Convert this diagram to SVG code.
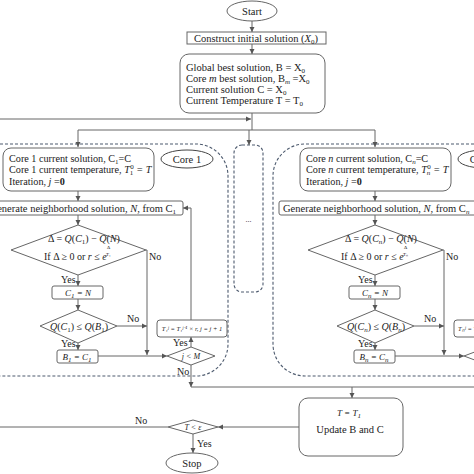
<svg xmlns="http://www.w3.org/2000/svg" width="474" height="474" viewBox="0 0 474 474">
<style>
text{font-family:"Liberation Serif","Times New Roman",serif;font-size:10.5px;fill:#222}
.c{text-anchor:middle}
.i{font-style:italic}
.sm{font-size:7px}
.cb{font-size:10.2px}
.box{fill:#fff;stroke:#666;stroke-width:1}
.dash{fill:none;stroke:#4d5a6e;stroke-width:1.1;stroke-dasharray:3 2}
.ln{fill:none;stroke:#666;stroke-width:1}
.ar{fill:none;stroke:#666;stroke-width:1;marker-end:url(#ah)}
</style>
<defs>
<marker id="ah" markerWidth="6" markerHeight="6" refX="5" refY="3" orient="auto" markerUnits="userSpaceOnUse">
<path d="M0,0.5 L5,3 L0,5.5 Z" fill="#555"/>
</marker>
</defs>
<rect width="474" height="474" fill="#fff"/>

<g id="containers">
<path class="dash" d="M-10,144 H196 A32,32 0 0 1 228,176 V344 A32,32 0 0 1 196,376 H-10"/>
<path class="dash" d="M484,144 H305 A32,32 0 0 0 273,176 V344 A32,32 0 0 0 305,376 H484"/>
<rect id="dots" class="dash" x="234" y="145" width="29" height="147" rx="8"/>
<text class="c" x="248.5" y="222" style="font-size:8px">...</text>
</g>

<g id="connectors">
<path class="ar" d="M252,21 V32"/>
<path class="ar" d="M252,44 V54"/>
<path class="ln" d="M252,113 V130 M78,130 H375"/>
<path class="ar" d="M78,130 V147"/>
<path class="ar" d="M249,130 V145"/>
<path class="ar" d="M375,130 V147"/>
<path class="ar" d="M168,427 H-5 V119 H251"/>
<path class="ln" d="M191,387 H480"/>
<path class="ar" d="M352,387 V398"/>
<path class="ar" d="M299,427 H218"/>
<path class="ar" d="M193,434 V453"/>
<g id="core1-links">
<path class="ar" d="M78,191 V201"/>
<path class="ar" d="M78,215 V225"/>
<path class="ar" d="M78,275 V286"/>
<path class="ar" d="M78,299 V310"/>
<path class="ar" d="M78,343 V350"/>
<path class="ar" d="M146,250 H147 V355"/>
<path class="ar" d="M117,326 H147"/>
<path class="ar" d="M98,356 H167"/>
<path class="ar" d="M191,347 V337"/>
<path class="ar" d="M191,320 V208 H183"/>
<path class="ar" d="M191,365 V387"/>
</g>
<g id="coren-links" transform="translate(297,0)">
<path class="ar" d="M78,191 V201"/>
<path class="ar" d="M78,215 V225"/>
<path class="ar" d="M78,275 V286"/>
<path class="ar" d="M78,299 V310"/>
<path class="ar" d="M78,343 V350"/>
<path class="ar" d="M146,250 H147 V355"/>
<path class="ar" d="M117,326 H147"/>
<path class="ar" d="M98,356 H167"/>
<path class="ar" d="M191,347 V337"/>
<path class="ar" d="M191,365 V387"/>
</g>
</g>

<g id="start">
<ellipse class="box" cx="252" cy="11" rx="25" ry="10"/>
<text class="c" x="252" y="15">Start</text>
</g>
<g id="construct">
<rect class="box" x="187" y="32" width="139" height="12"/>
<text class="c" x="256" y="42">Construct initial solution (<tspan class="i">X</tspan><tspan class="sm" dy="2">0</tspan><tspan dy="-2">)</tspan></text>
</g>
<g id="init">
<rect class="box" x="180" y="54" width="145" height="59" rx="9"/>
<text x="186" y="71">Global best solution, B = X<tspan class="sm" dy="2">0</tspan></text>
<text x="186" y="82">Core <tspan class="i">m</tspan> best solution, B<tspan class="sm i" dy="2">m</tspan><tspan dy="-2">  =X</tspan><tspan class="sm" dy="2">0</tspan></text>
<text x="186" y="93">Current solution C = X<tspan class="sm" dy="2">0</tspan></text>
<text x="186" y="104">Current Temperature T = T<tspan class="sm" dy="2">0</tspan></text>
</g>

<g id="core1">
<g id="core1-init">
<rect class="box" x="3" y="148" width="151" height="43" rx="8"/>
<text class="cb" x="9" y="162">Core 1 current solution, C<tspan class="sm" dy="2">1</tspan><tspan dy="-2">=C</tspan></text>
<text class="cb" x="9" y="173">Core 1 current temperature, <tspan class="i">T</tspan><tspan class="sm" dy="2">1</tspan><tspan class="sm" dx="-3" dy="-6">0</tspan><tspan dy="4" class="i"> = T</tspan></text>
<text class="cb" x="9" y="185">Iteration, <tspan class="i">j</tspan> =<tspan font-weight="bold">0</tspan></text>
</g>
<g id="core1-label">
<ellipse class="box" cx="187" cy="159" rx="26" ry="9" style="stroke:#444"/>
<text class="c" x="187" y="163">Core 1</text>
</g>
<g id="core1-gen">
<rect class="box" x="-14" y="201" width="197" height="14" rx="2"/>
<text x="176" y="212" text-anchor="end">Generate neighborhood solution, <tspan class="i">N</tspan>, from C<tspan class="sm" dy="2">1</tspan></text>
</g>
<g id="core1-accept">
<polygon class="box" points="78,225 146,250 78,275 11,250"/>
<text class="c" x="84" y="242" style="font-size:10px">Δ = <tspan class="i">Q</tspan>(<tspan class="i">C</tspan><tspan class="sm" dy="2">1</tspan><tspan dy="-2">) − </tspan><tspan class="i">Q</tspan>(<tspan class="i">N</tspan>)</text>
<text x="44" y="260" style="font-size:10px">If Δ ≥ 0 or <tspan class="i">r</tspan> ≤ <tspan class="i">e</tspan></text>
<text x="107" y="249" style="font-size:5px">Δ</text>
<text x="106" y="256" style="font-size:5px">T₁</text>
</g>
<g id="core1-set">
<rect class="box" x="52" y="286" width="51" height="13" rx="2"/>
<text class="c i" x="78" y="296" style="font-size:9px">C<tspan class="sm" dy="2">1</tspan><tspan dy="-2"> = N</tspan></text>
</g>
<g id="core1-cmp">
<polygon class="box" points="78,310 117,326 78,343 40,326"/>
<text class="c" x="79" y="330" style="font-size:10px"><tspan class="i">Q</tspan>(<tspan class="i">C</tspan><tspan class="sm" dy="2">1</tspan><tspan dy="-2">) ≤ </tspan><tspan class="i">Q</tspan>(<tspan class="i">B</tspan><tspan class="sm" dy="2">1</tspan><tspan dy="-2">)</tspan></text>
</g>
<g id="core1-best">
<rect class="box" x="57" y="350" width="41" height="13" rx="2"/>
<text class="c i" x="77" y="360" style="font-size:9px">B<tspan class="sm" dy="2">1</tspan><tspan dy="-2"> = C</tspan><tspan class="sm" dy="2">1</tspan></text>
</g>
<g id="core1-temp">
<rect class="box" x="157" y="320" width="70" height="17" rx="3"/>
<text class="c i" x="192" y="331" style="font-size:6.5px">T₁ʲ = T₁ʲ⁻¹ × r, j = j + 1</text>
</g>
<g id="core1-iter">
<polygon class="box" points="167,356 191,347 215,356 191,365"/>
<text class="c i" x="191" y="359" style="font-size:8px">j &lt; M</text>
</g>
<text x="61" y="283" style="font-size:10px">Yes</text>
<text x="61" y="347" style="font-size:10px">Yes</text>
<text x="149" y="260" style="font-size:10px">No</text>
<text x="127" y="322" style="font-size:10px">No</text>
<text x="173" y="346" style="font-size:10px">Yes</text>
<text x="177" y="375" style="font-size:10px">No</text>
</g>

<g id="coren">
<g id="coren-init">
<rect class="box" x="300" y="148" width="151" height="43" rx="8"/>
<text class="cb" x="306" y="162">Core <tspan class="i">n</tspan> current solution, C<tspan class="sm i" dy="2">n</tspan><tspan dy="-2">=C</tspan></text>
<text class="cb" x="306" y="173">Core <tspan class="i">n</tspan> current temperature, <tspan class="i">T</tspan><tspan class="sm i" dy="2">n</tspan><tspan class="sm" dx="-3" dy="-6">0</tspan><tspan dy="4" class="i"> = T</tspan></text>
<text class="cb" x="306" y="185">Iteration, <tspan class="i">j</tspan> =<tspan font-weight="bold">0</tspan></text>
</g>
<g id="coren-label">
<ellipse class="box" cx="484" cy="159" rx="26" ry="9" style="stroke:#444"/>
<text class="c" x="484" y="163">Core <tspan class="i">n</tspan></text>
</g>
<g id="coren-gen">
<rect class="box" x="279" y="201" width="200" height="14" rx="2"/>
<text x="283" y="212">Generate neighborhood solution, <tspan class="i">N</tspan>, from C<tspan class="sm i" dy="2">n</tspan></text>
</g>
<g id="coren-accept">
<polygon class="box" points="375,225 443,250 375,275 308,250"/>
<text class="c" x="381" y="242" style="font-size:10px">Δ = <tspan class="i">Q</tspan>(<tspan class="i">C</tspan><tspan class="sm i" dy="2">n</tspan><tspan dy="-2">) − </tspan><tspan class="i">Q</tspan>(<tspan class="i">N</tspan>)</text>
<text x="341" y="260" style="font-size:10px">If Δ ≥ 0 or <tspan class="i">r</tspan> ≤ <tspan class="i">e</tspan></text>
<text x="404" y="249" style="font-size:5px">Δ</text>
<text x="403" y="256" style="font-size:5px">Tₙ</text>
</g>
<g id="coren-set">
<rect class="box" x="349" y="286" width="51" height="13" rx="2"/>
<text class="c i" x="375" y="296" style="font-size:9px">C<tspan class="sm" dy="2">n</tspan><tspan dy="-2"> = N</tspan></text>
</g>
<g id="coren-cmp">
<polygon class="box" points="375,310 414,326 375,343 337,326"/>
<text class="c" x="376" y="330" style="font-size:10px"><tspan class="i">Q</tspan>(<tspan class="i">C</tspan><tspan class="sm i" dy="2">n</tspan><tspan dy="-2">) ≤ </tspan><tspan class="i">Q</tspan>(<tspan class="i">B</tspan><tspan class="sm i" dy="2">n</tspan><tspan dy="-2">)</tspan></text>
</g>
<g id="coren-best">
<rect class="box" x="354" y="350" width="41" height="13" rx="2"/>
<text class="c i" x="374" y="360" style="font-size:9px">B<tspan class="sm" dy="2">n</tspan><tspan dy="-2"> = C</tspan><tspan class="sm" dy="2">n</tspan></text>
</g>
<g id="coren-temp">
<rect class="box" x="454" y="320" width="70" height="17" rx="3"/>
<text class="c i" x="489" y="331" style="font-size:6.5px">Tₙʲ = Tₙʲ⁻¹ × r, j = j + 1</text>
</g>
<g id="coren-iter">
<polygon class="box" points="464,356 488,347 512,356 488,365"/>
</g>
<text x="358" y="283" style="font-size:10px">Yes</text>
<text x="358" y="347" style="font-size:10px">Yes</text>
<text x="446" y="260" style="font-size:10px">No</text>
<text x="424" y="322" style="font-size:10px">No</text>
</g>

<g id="update">
<rect class="box" x="299" y="398" width="104" height="58" rx="9"/>
<text class="c i" x="349" y="416" style="font-size:9px">T = T<tspan class="sm" dy="2">1</tspan></text>
<text class="c" x="350" y="433">Update B and C</text>
</g>
<g id="stopcheck">
<polygon class="box" points="168,427 193,420 218,427 193,434"/>
<text class="c i" x="193" y="430" style="font-size:8px">T &lt; ε</text>
</g>
<g id="stop">
<ellipse class="box" cx="192" cy="463" rx="26" ry="10"/>
<text class="c" x="192" y="467">Stop</text>
</g>
<text x="135" y="424" style="font-size:10px">No</text>
<text x="197" y="447" style="font-size:10px">Yes</text>
</svg>
